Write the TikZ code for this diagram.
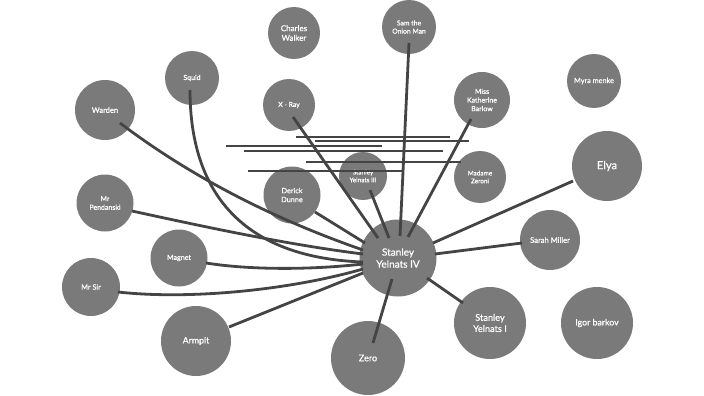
\documentclass[tikz,border=0pt]{standalone}
\usepackage{fontspec}
\setmainfont{Lato}[FakeBold=0.7]
\definecolor{bub}{HTML}{7A7A7A}
\definecolor{lnk}{HTML}{444444}
\begin{document}
\begin{tikzpicture}[x=1pt,y=-1pt,
  bubble/.style={circle,fill=bub,draw=none,inner sep=0pt,text=white,align=center},
  link/.style={draw=lnk,line width=2.8pt},
  bar/.style={draw=lnk,line width=2.8pt}]
\useasboundingbox (0,0) rectangle (704,396);
% bubbles
\node[bubble,minimum size=52pt,font=\fontsize{8}{9.6}\selectfont] (cw) at (294,33) {Charles\\Walker};
\node[bubble,minimum size=54pt,font=\fontsize{6.8}{8.2}\selectfont] (sam) at (409,27) {Sam the\\Onion Man};
\node[bubble,minimum size=54pt,font=\fontsize{7}{8.4}\selectfont] (squid) at (192,78) {Squid};
\node[bubble,minimum size=52pt,font=\fontsize{6.8}{8.2}\selectfont] (xray) at (289,105) {X - Ray};
\node[bubble,minimum size=56pt,font=\fontsize{7}{8.6}\selectfont] (mkb) at (482,100) {Miss\\Katherine\\Barlow};
\node[bubble,minimum size=54pt,font=\fontsize{7.3}{8.8}\selectfont] (myra) at (594,81) {Myra menke};
\node[bubble,minimum size=60pt,font=\fontsize{7.6}{9.1}\selectfont] (warden) at (105,110) {Warden};
\node[bubble,minimum size=70pt,font=\fontsize{11.2}{13.4}\selectfont] (elya) at (607,166) {Elya};
\node[bubble,minimum size=52pt,font=\fontsize{6.4}{7.8}\selectfont] (mz) at (480,177) {Madame\\Zeroni};
\node[bubble,minimum size=48pt,font=\fontsize{6.4}{7.8}\selectfont] (s3) at (363,176) {Stanley\\Yelnats III};
\node[bubble,minimum size=57pt,font=\fontsize{7.3}{8.9}\selectfont] (dd) at (292,195) {Derick\\Dunne};
\node[bubble,minimum size=57pt,font=\fontsize{7}{8.6}\selectfont] (pend) at (105,203) {Mr\\Pendanski};
\node[bubble,minimum size=57pt,font=\fontsize{7.1}{8.5}\selectfont] (mag) at (179,258) {Magnet};
\node[bubble,minimum size=60pt,font=\fontsize{7.6}{9.1}\selectfont] (sm) at (550,240) {Sarah Miller};
\node[bubble,minimum size=58pt,font=\fontsize{7.3}{8.8}\selectfont] (mrsir) at (91,287) {Mr Sir};
\node[bubble,minimum size=77pt,font=\fontsize{10}{12}\selectfont] (s4) at (398,258) {Stanley\\Yelnats IV};
\node[bubble,minimum size=72pt,font=\fontsize{9.2}{11.2}\selectfont] (s1) at (490,323) {Stanley\\Yelnats I};
\node[bubble,minimum size=72pt,font=\fontsize{8.8}{10.6}\selectfont] (igor) at (597,323) {Igor barkov};
\node[bubble,minimum size=70pt,font=\fontsize{8.8}{10.6}\selectfont] (armpit) at (196,341) {Armpit};
\node[bubble,minimum size=74pt,font=\fontsize{9.1}{11}\selectfont] (zero) at (368,358) {Zero};
% connectors
\draw[link] ([shift={(15,13)}]warden.center) .. controls +(70,53) and +(-92,-32) .. ([shift={(-35,-8)}]s4.center);
\draw[link] ([shift={(-2,12)}]squid.center) .. controls +(0,110) and +(-113,-4) .. ([shift={(-35,4)}]s4.center);
\draw[link] ([shift={(27,8)}]pend.center) .. controls +(78,17) and +(-73,-9) .. ([shift={(-35,-4)}]s4.center);
\draw[link] ([shift={(27,5)}]mag.center) .. controls +(44,7) and +(-53,6) .. ([shift={(-35,6)}]s4.center);
\draw[link] ([shift={(27,5)}]mrsir.center) .. controls +(72,8) and +(-73,21) .. ([shift={(-35,11)}]s4.center);
\draw[link] ([shift={(33,-14)}]armpit.center) -- ([shift={(-35,15)}]s4.center);
\draw[link] ([shift={(23,17)}]dd.center) -- ([shift={(-33,-15)}]s4.center);
\draw[link] ([shift={(4,12)}]xray.center) -- ([shift={(-20,-20)}]s4.center);
\draw[link] ([shift={(0,16)}]sam.center) -- ([shift={(2,-22)}]s4.center);
\draw[link] ([shift={(-11,19)}]mkb.center) -- ([shift={(10,-21)}]s4.center);
\draw[link] ([shift={(7,14)}]s3.center) -- ([shift={(-9,-20)}]s4.center);
\draw[link] ([shift={(-34,15)}]elya.center) -- ([shift={(35,-15)}]s4.center);
\draw[link] ([shift={(-28,3)}]sm.center) -- ([shift={(37,-4)}]s4.center);
\draw[link] ([shift={(-27,-20)}]s1.center) -- ([shift={(29,20)}]s4.center);
\draw[link] ([shift={(5,-15)}]zero.center) -- ([shift={(-6,21)}]s4.center);
% horizontal bars
\draw[bar] (296,137) -- (450,137);
\draw[bar] (315,141) -- (469,141);
\draw[bar] (226,146) -- (382,146);
\draw[bar] (244,151) -- (443,151);
\draw[bar] (306,162) -- (461,162);
\draw[bar] (248,171) -- (403,171);
\end{tikzpicture}
\end{document}
